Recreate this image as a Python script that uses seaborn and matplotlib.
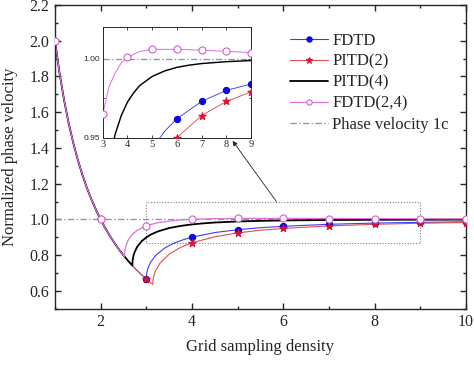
import matplotlib
matplotlib.use("Agg")
import matplotlib.pyplot as plt
import matplotlib.patches as patches
from matplotlib.lines import Line2D
from matplotlib.ticker import MultipleLocator
import pandas as pd
import seaborn as sns

# Common branch below the cutoff (all schemes coincide here)
LOW_N = [1.0, 1.1, 1.2, 1.3, 1.4, 1.5, 1.6, 1.7, 1.8, 1.9, 2.0, 2.1, 2.2, 2.3, 2.4, 2.5]
LOW_V = [2.0, 1.818, 1.667, 1.538, 1.429, 1.333, 1.25, 1.176, 1.111, 1.053,
         1.0, 0.952, 0.909, 0.870, 0.833, 0.800]

FDTD_N = [2.6, 2.7, 2.8, 2.9, 3.0, 3.01, 3.02, 3.05, 3.1, 3.2, 3.4, 3.6, 3.8,
          4.0, 4.5, 5.0, 5.5, 6.0, 7.0, 8.0, 9.0, 10.0]
FDTD_V = [0.769, 0.741, 0.714, 0.690, 0.667, 0.699, 0.712, 0.737, 0.763, 0.798,
          0.840, 0.867, 0.886, 0.901, 0.927, 0.943, 0.954, 0.962, 0.973, 0.980,
          0.984, 0.987]

PITD2_N = [2.6, 2.8, 3.0, 3.1, 3.1416, 3.145, 3.15, 3.17, 3.2, 3.3, 3.5, 3.75,
           4.0, 4.5, 5.0, 5.5, 6.0, 7.0, 8.0, 9.0, 10.0]
PITD2_V = [0.769, 0.714, 0.667, 0.645, 0.637, 0.655, 0.666, 0.690, 0.712, 0.756,
           0.806, 0.844, 0.870, 0.903, 0.925, 0.940, 0.950, 0.964, 0.973, 0.979,
           0.983]

PITD4_N = [2.6, 2.693, 2.70, 2.72, 2.75, 2.8, 2.9, 3.0, 3.1, 3.25, 3.5, 3.75,
           4.0, 4.25, 4.5, 5.0, 5.5, 6.0, 6.5, 7.0, 8.0, 9.0, 10.0]
PITD4_V = [0.769, 0.743, 0.772, 0.799, 0.821, 0.847, 0.879, 0.900, 0.916, 0.933,
           0.952, 0.964, 0.9726, 0.9784, 0.9831, 0.9888, 0.9923, 0.9946, 0.9960,
           0.9970, 0.9982, 0.9989, 0.9993]

FDTD24_N = [2.5214, 2.53, 2.55, 2.6, 2.7, 2.8, 3.0, 3.25, 3.5, 3.75, 4.0, 4.5,
            5.0, 6.0, 7.0, 8.0, 9.0, 10.0]
FDTD24_V = [0.793, 0.825, 0.850, 0.883, 0.919, 0.939, 0.965, 0.982, 0.991, 0.9974,
            1.001, 1.0047, 1.006, 1.006, 1.0055, 1.0047, 1.004, 1.0034]

PHASE_N = [1.0, 10.0]
PHASE_V = [1.0, 1.0]

LABELS = ["FDTD", "PITD(2)", "PITD(4)", "FDTD(2,4)", "Phase velocity 1c"]

sns.set_style("ticks")
plt.rcParams["font.family"] = ["Liberation Serif", "DejaVu Serif"]


def make_df(n, v):
    return pd.DataFrame({"N": LOW_N + n, "v": LOW_V + v})


fdtd = make_df(FDTD_N, FDTD_V)
pitd2 = make_df(PITD2_N, PITD2_V)
pitd4 = make_df(PITD4_N, PITD4_V)
fdtd24 = make_df(FDTD24_N, FDTD24_V)
phase = pd.DataFrame({"N": PHASE_N, "v": PHASE_V})

styles = {
    "FDTD": dict(line="#3c3cf0", lw=0.8, marker="o", mc="#0a0ae0", mface="#0a0ae0", ms=20),
    "PITD(2)": dict(line="#e05050", lw=0.8, marker="*", mc="#e01030", mface="#e01030", ms=30),
    "PITD(4)": dict(line="black", lw=1.3, marker=None),
    "FDTD(2,4)": dict(line="#e070e0", lw=0.9, marker="o", mc="#d060d0", mface="white", ms=26),
}
frames = {"FDTD": fdtd, "PITD(2)": pitd2, "PITD(4)": pitd4, "FDTD(2,4)": fdtd24}
PHASE_COLOR = "#6f9f9f"
PHASE_DASH = (0, (5, 2, 1, 2))


def draw(ax, lw_scale=1.0):
    sns.lineplot(data=phase, x="N", y="v", ax=ax, color=PHASE_COLOR, lw=0.9,
                 linestyle=PHASE_DASH, sort=False, estimator=None, zorder=1)
    for name, df in frames.items():
        st = styles[name]
        sns.lineplot(data=df, x="N", y="v", ax=ax, color=st["line"],
                     lw=st["lw"] * lw_scale, sort=False, estimator=None, zorder=2)
    for name, df in frames.items():
        st = styles[name]
        if st["marker"] is None:
            continue
        pts = df[(df["N"] % 1 == 0)].drop_duplicates("N")
        sns.scatterplot(data=pts, x="N", y="v", ax=ax, marker=st["marker"],
                        s=st["ms"], color=st["mface"], edgecolor=st["mc"],
                        linewidth=0.8, zorder=4 if name == "FDTD(2,4)" else 3)


fig = plt.figure(figsize=(4.74, 3.79), dpi=100)
ax = fig.add_axes([0.116, 0.185, 0.867, 0.802])
draw(ax)
ax.set_xlim(1, 10)
ax.set_ylim(0.5, 2.2)
ax.xaxis.set_minor_locator(MultipleLocator(1))
ax.yaxis.set_minor_locator(MultipleLocator(0.1))
ax.tick_params(which="both", direction="in", top=True, right=True, width=1.0)
ax.tick_params(which="major", length=4, labelsize=11.5, pad=4)
ax.tick_params(which="minor", length=2.2)
ax.set_xticks([2, 4, 6, 8, 10])
ax.set_yticks([0.6, 0.8, 1.0, 1.2, 1.4, 1.6, 1.8, 2.0, 2.2])
ax.set_yticklabels(["0.6", "0.8", "1.0", "1.2", "1.4", "1.6", "1.8", "2.0", "2.2"])
ax.set_xlabel("Grid sampling density", fontsize=12, labelpad=6)
ax.set_ylabel("Normalized phase velocity", fontsize=12, labelpad=8)
for sp in ax.spines.values():
    sp.set_linewidth(1.0)

# zoom box and arrow
ax.add_patch(patches.Rectangle((3, 0.867), 6, 0.233, fill=False, ec="#808080",
                               lw=0.8, linestyle=(0, (1, 1.5)), zorder=1))
ax.annotate("", xy=(4.89, 1.44), xytext=(5.85, 1.1),
            arrowprops=dict(arrowstyle="-|>", color="#222222", lw=0.6,
                            mutation_scale=7, shrinkA=0, shrinkB=0))

handles = []
for name in ["FDTD", "PITD(2)", "PITD(4)", "FDTD(2,4)"]:
    st = styles[name]
    handles.append(Line2D([], [], color=st["line"], lw=st["lw"], marker=st["marker"],
                          markersize=4.5 if st["marker"] == "*" else 3.8,
                          markerfacecolor=st.get("mface"), markeredgecolor=st.get("mc"),
                          markeredgewidth=0.8))
handles.append(Line2D([], [], color=PHASE_COLOR, lw=0.9, linestyle=PHASE_DASH))
ax.legend(handles, LABELS, loc="upper left", bbox_to_anchor=(0.555, 0.93),
          frameon=False, fontsize=12, handlelength=2.3, handletextpad=0.25,
          labelspacing=0.3, borderaxespad=0)

# inset
ins = fig.add_axes([0.2167, 0.6367, 0.3129, 0.2913])
draw(ins, lw_scale=0.8)
ins.set_xlim(3, 9)
ins.set_ylim(0.95, 1.02)
ins.set_xticks([3, 4, 5, 6, 7, 8, 9])
ins.set_xticklabels(["3", "4", "5", "6", "7", "8", "9"], fontsize=7.5)
ins.set_yticks([0.95, 1.00])
ins.set_yticklabels(["0.95", "1.00"], family="Liberation Sans", fontsize=6)
ins.yaxis.set_minor_locator(MultipleLocator(0.025))
ins.tick_params(which="both", direction="in", top=True, right=True, width=0.6)
ins.tick_params(which="major", length=2.5, pad=2)
ins.tick_params(which="minor", length=1.5)
ins.set_xlabel("")
ins.set_ylabel("")
for sp in ins.spines.values():
    sp.set_linewidth(0.7)

fig.savefig("out.png", dpi=100)
